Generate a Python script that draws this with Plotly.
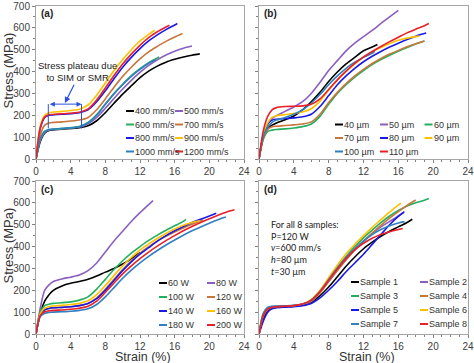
import plotly.graph_objects as go

W, H = 474, 363
COLORS = ['#000000', '#8B5FBF', '#22B05E', '#C8763C', '#1A1AE6', '#FFC000', '#2F7FC1', '#E8202A']

# ---------- panel (a): scan speed ----------
A_LABELS = ['400 mm/s', '500 mm/s', '600 mm/s', '700 mm/s', '800 mm/s', '900 mm/s', '1000 mm/s', '1200 mm/s']
A_STRAIN = [
    [0, 0.5, 1, 1.5, 3, 5, 6, 7, 8, 9, 10, 11, 12, 13, 14, 15, 16, 17, 18, 18.9],
    [0, 0.5, 1, 1.5, 3, 5, 6, 7, 8, 9, 10, 11, 12, 13, 14, 15, 16, 17, 18],
    [0, 0.5, 1, 1.5, 3, 5, 6, 7, 8, 9, 10, 11, 12, 13, 14.2],
    [0, 0.5, 1, 1.5, 3, 5, 6, 7, 8, 9, 10, 11, 12, 13, 14, 15, 16, 16.9],
    [0, 0.5, 1, 1.5, 3, 5, 6, 7, 8, 9, 10, 11, 12, 13, 14, 15, 16, 16.3],
    [0, 0.5, 1, 1.5, 3, 5, 6, 7, 8, 9, 10, 11, 12, 13, 13.7],
    [0, 0.5, 1, 1.5, 3, 5, 6, 7, 8, 9, 10, 11, 12, 13, 13.8],
    [0, 0.5, 1, 1.5, 3, 5, 6, 7, 8, 9, 10, 11, 12, 13, 14, 15, 15.4],
]
A_STRESS = [
    [0, 80, 118, 130, 136, 143, 152, 175, 212, 255, 297, 335, 372, 402, 425, 443, 456, 467, 475, 481],
    [0, 85, 122, 133, 138, 146, 160, 190, 232, 277, 320, 360, 396, 428, 454, 476, 493, 507, 517],
    [0, 90, 126, 134, 139, 149, 167, 203, 252, 300, 342, 381, 413, 441, 467],
    [0, 110, 155, 165, 170, 178, 190, 225, 275, 328, 378, 420, 458, 490, 515, 538, 558, 574],
    [0, 140, 190, 200, 205, 212, 225, 262, 312, 367, 420, 465, 505, 540, 568, 592, 613, 620],
    [0, 150, 200, 212, 218, 228, 247, 292, 348, 405, 455, 500, 540, 570, 589],
    [0, 92, 127, 135, 140, 148, 165, 200, 250, 298, 340, 378, 410, 438, 455],
    [0, 145, 192, 202, 207, 214, 229, 270, 325, 382, 435, 480, 520, 555, 582, 604, 612],
]

# ---------- panel (b): hatch spacing ----------
B_LABELS = ['40 µm', '50 µm', '60 µm', '70 µm', '80 µm', '90 µm', '100 µm', '110 µm']
B_STRAIN = [
    [0, 0.5, 1, 1.5, 2, 3, 4, 5, 6, 7, 8, 9, 10, 11, 12, 13, 13.6],
    [0, 0.5, 1, 1.5, 2, 3, 4, 5, 6, 7, 8, 9, 10, 11, 12, 13, 14, 15, 16],
    [0, 0.5, 1, 1.5, 2, 3, 4, 5, 6, 7, 8, 9, 10, 11, 12, 13, 14, 15, 16, 17, 18, 19],
    [0, 0.5, 1, 1.5, 2, 3, 4, 5, 6, 7, 8, 9, 10, 11, 12, 13, 14, 15, 16, 17, 18, 19],
    [0, 0.5, 1, 1.5, 2, 3, 4, 5, 6, 7, 8, 9, 10, 11, 12, 13, 14, 15, 16, 17, 18, 19.2],
    [0, 0.5, 1, 1.5, 2, 3, 4, 5, 6, 7, 8, 9, 10, 11, 12, 13, 14, 15, 16, 17, 18, 18.4],
    [0, 0.5, 1, 1.5, 2, 3, 4, 5, 6, 7, 8, 9, 10, 11, 12, 13, 13.3],
    [0, 0.5, 1, 1.5, 2, 3, 4, 5, 6, 7, 8, 9, 10, 11, 12, 13, 14, 15, 16, 17, 18, 19, 19.5],
]
B_STRESS = [
    [0, 100, 140, 155, 165, 180, 197, 225, 262, 305, 355, 398, 435, 465, 495, 512, 524],
    [0, 110, 160, 185, 198, 218, 238, 262, 300, 350, 405, 450, 495, 530, 560, 588, 620, 650, 680],
    [0, 90, 125, 132, 135, 138, 142, 148, 160, 195, 250, 300, 340, 375, 405, 432, 455, 475, 493, 510, 526, 540],
    [0, 95, 135, 148, 150, 153, 156, 160, 170, 205, 258, 305, 345, 380, 410, 437, 460, 480, 497, 513, 527, 540],
    [0, 110, 160, 178, 182, 185, 188, 193, 205, 240, 290, 340, 380, 415, 445, 470, 492, 512, 530, 547, 562, 576],
    [0, 115, 165, 190, 198, 203, 208, 215, 230, 265, 315, 362, 400, 435, 465, 490, 510, 528, 543, 553, 560, 562],
    [0, 105, 145, 168, 178, 190, 205, 225, 255, 295, 340, 380, 415, 443, 465, 483, 492],
    [0, 130, 195, 225, 235, 240, 241, 243, 250, 275, 318, 362, 402, 437, 467, 492, 515, 537, 557, 577, 594, 610, 620],
]

# ---------- panel (c): laser power ----------
C_LABELS = ['60 W', '80 W', '100 W', '120 W', '140 W', '160 W', '180 W', '200 W']
C_STRAIN = [
    [0, 0.5, 1, 1.5, 2, 3, 4, 5, 6, 7, 8, 9, 10, 11, 12],
    [0, 0.5, 1, 1.5, 2, 3, 4, 5, 6, 7, 8, 9, 10, 11, 12, 13, 13.5],
    [0, 0.5, 1, 1.5, 2, 3, 4, 5, 6, 7, 8, 9, 10, 11, 12, 13, 14, 15, 16, 17, 17.3],
    [0, 0.5, 1, 1.5, 2, 3, 4, 5, 6, 7, 8, 9, 10, 11, 12, 13, 14, 15, 16, 17, 18, 19, 19.3],
    [0, 0.5, 1, 1.5, 2, 3, 4, 5, 6, 7, 8, 9, 10, 11, 12, 13, 14, 15, 16, 17, 18, 19, 20, 20.8],
    [0, 0.5, 1, 1.5, 2, 3, 4, 5, 6, 7, 8, 9, 10, 11, 12, 13, 14, 15, 16, 17, 18, 18.9],
    [0, 0.5, 1, 1.5, 2, 3, 4, 5, 6, 7, 8, 9, 10, 11, 12, 13, 14, 15, 16, 17, 18, 19, 20, 21, 21.9],
    [0, 0.5, 1, 1.5, 2, 3, 4, 5, 6, 7, 8, 9, 10, 11, 12, 13, 14, 15, 16, 17, 18, 19, 20, 21, 22, 22.9],
]
C_STRESS = [
    [0, 95, 150, 180, 200, 220, 232, 240, 250, 265, 283, 300, 320, 345, 372],
    [0, 120, 200, 225, 240, 252, 260, 270, 290, 325, 375, 425, 470, 515, 555, 592, 610],
    [0, 100, 130, 136, 140, 143, 147, 155, 170, 205, 250, 295, 335, 370, 400, 428, 452, 475, 495, 515, 525],
    [0, 90, 112, 118, 120, 122, 125, 130, 140, 165, 205, 250, 295, 335, 370, 400, 425, 447, 467, 485, 502, 517, 520],
    [0, 88, 110, 117, 120, 122, 125, 130, 140, 162, 200, 245, 290, 330, 365, 395, 425, 450, 472, 492, 510, 525, 540, 552],
    [0, 92, 118, 125, 128, 131, 135, 140, 152, 180, 222, 268, 312, 350, 385, 412, 437, 460, 480, 497, 510, 518],
    [0, 80, 95, 99, 100, 102, 104, 108, 115, 135, 170, 212, 255, 292, 325, 355, 382, 407, 430, 452, 472, 490, 507, 523, 535],
    [0, 85, 102, 106, 108, 110, 113, 118, 127, 150, 190, 233, 275, 312, 345, 375, 402, 427, 450, 472, 492, 510, 527, 543, 558, 568],
]

# ---------- panel (d): repeatability ----------
D_LABELS = ['Sample 1', 'Sample 2', 'Sample 3', 'Sample 4', 'Sample 5', 'Sample 6', 'Sample 7', 'Sample 8']
D_STRAIN = [
    [0, 0.5, 1, 1.5, 2, 3, 4, 5, 6, 7, 8, 9, 10, 11, 12, 13, 14, 15, 16, 17, 17.6],
    [0, 0.5, 1, 1.5, 2, 3, 4, 5, 6, 7, 8, 9, 10, 11, 12, 13, 14, 15, 16, 16.6],
    [0, 0.5, 1, 1.5, 2, 3, 4, 5, 6, 7, 8, 9, 10, 11, 12, 13, 14, 15, 16, 17, 18, 19, 19.5],
    [0, 0.5, 1, 1.5, 2, 3, 4, 5, 6, 7, 8, 9, 10, 11, 12, 13, 14, 15, 16, 17, 18],
    [0, 0.5, 1, 1.5, 2, 3, 4, 5, 6, 7, 8, 9, 10, 11, 12, 13, 14, 15, 16, 16.7],
    [0, 0.5, 1, 1.5, 2, 3, 4, 5, 6, 7, 8, 9, 10, 11, 12, 13, 14, 15, 16, 16.3],
    [0, 0.5, 1, 1.5, 2, 3, 4, 5, 6, 7, 8, 9, 10, 11, 12, 13, 14, 15, 16, 16.7],
    [0, 0.5, 1, 1.5, 2, 3, 4, 5, 6, 7, 8, 9, 10, 11, 12, 13, 14, 15, 16, 16.5],
]
D_STRESS = [
    [0, 70, 105, 118, 122, 125, 127, 132, 145, 175, 215, 262, 310, 352, 390, 420, 447, 470, 490, 510, 525],
    [0, 85, 115, 122, 125, 127, 129, 135, 152, 190, 240, 292, 340, 385, 425, 460, 490, 515, 540, 556],
    [0, 95, 120, 125, 127, 128, 130, 136, 155, 195, 250, 305, 355, 400, 440, 475, 510, 540, 565, 585, 600, 612, 620],
    [0, 80, 112, 120, 123, 125, 128, 134, 150, 188, 240, 290, 340, 385, 425, 462, 497, 530, 560, 588, 613],
    [0, 60, 100, 115, 120, 123, 125, 130, 140, 165, 200, 240, 285, 325, 365, 410, 455, 500, 538, 560],
    [0, 90, 118, 124, 126, 128, 130, 137, 157, 200, 258, 315, 367, 410, 450, 488, 523, 558, 590, 598],
    [0, 95, 122, 127, 128, 129, 131, 137, 155, 195, 250, 302, 350, 390, 425, 455, 478, 495, 508, 514],
    [0, 85, 115, 122, 125, 127, 130, 137, 155, 193, 245, 297, 345, 385, 415, 438, 455, 468, 478, 483],
]

PANELS = [
    ('(a)', A_LABELS, A_STRAIN, A_STRESS),
    ('(b)', B_LABELS, B_STRAIN, B_STRESS),
    ('(c)', C_LABELS, C_STRAIN, C_STRESS),
    ('(d)', D_LABELS, D_STRAIN, D_STRESS),
]

# pixel layout of each panel: (x0, x1, ytop, ybottom)
BOX = [(36, 244, 6, 159), (259, 468, 6, 159), (36, 244, 181, 334), (259, 468, 181, 334)]
# legend layout: column swatch x positions, row y positions (px)
LEG = [
    ([126, 175], [111, 124.5, 138, 151.5]),
    ([335, 380, 424.5], [124.5, 138, 151.5]),
    ([159, 207], [283, 297, 311, 325]),
    ([351, 420], [282, 296, 310, 324]),
]

def px(x):
    return x / W

def py(y):
    return 1 - y / H

fig = go.Figure()
shapes = []
annotations = []
TXT = '#404040'
FONT = 'Liberation Sans, Arial, sans-serif'

for i, (tag, labels, strains, stresses) in enumerate(PANELS):
    sfx = '' if i == 0 else str(i + 1)
    for j, (lab, s, sig) in enumerate(zip(labels, strains, stresses)):
        fig.add_trace(go.Scatter(
            x=s, y=sig, name=lab, mode='lines', showlegend=False,
            line=dict(color=COLORS[j], width=1.6, shape='spline', smoothing=0.8),
            xaxis='x' + sfx, yaxis='y' + sfx))
    x0, x1, yt, yb = BOX[i]
    common = dict(showline=True, mirror=True, linecolor='#a6a6a6', linewidth=1, automargin=False,
                  ticks='outside', ticklen=3, tickcolor='#808080', showgrid=False,
                  zeroline=False, tickfont=dict(size=10, color=TXT, family=FONT))
    xa = dict(common, domain=[px(x0), px(x1)], range=[0, 24], dtick=4, tick0=0,
              anchor='y' + sfx, minor=dict(ticks='outside', ticklen=2, dtick=1, tickcolor='#808080'))
    ya = dict(common, domain=[py(yb), py(yt)], range=[0, 700], dtick=100, tick0=0,
              anchor='x' + sfx, minor=dict(ticks='outside', ticklen=2, dtick=50, tickcolor='#808080'))
    if i in (1, 3):
        ya['showticklabels'] = False
    fig.update_layout(**{'xaxis' + sfx: xa, 'yaxis' + sfx: ya})

    if i in (0, 2):
        annotations.append(dict(text='Stress (MPa)', x=px(8), y=py((yt + yb) / 2 - 12), xref='paper', yref='paper',
                                xanchor='center', yanchor='middle', showarrow=False, textangle=-90, borderpad=0,
                                font=dict(size=13, color='#333333', family=FONT)))
    if i in (2, 3):
        annotations.append(dict(text='Strain (%)', x=px((x0 + x1) / 2 + 3), y=py(356.5), xref='paper', yref='paper',
                                xanchor='center', yanchor='middle', showarrow=False, borderpad=0,
                                font=dict(size=12.5, color='#333333', family=FONT)))

    # panel tag
    annotations.append(dict(text='<b>' + tag + '</b>', x=px(x0 + 2.5), y=py(yt + 8), xref='paper', yref='paper',
                            xanchor='left', yanchor='middle', showarrow=False,
                            font=dict(size=10, color='#222222', family=FONT)))
    # legend (swatch + label)
    cols, rows = LEG[i]
    for j, lab in enumerate(labels):
        cx = cols[j % len(cols)]
        ry = rows[j // len(cols)]
        shapes.append(dict(type='line', xref='paper', yref='paper', x0=px(cx), x1=px(cx + 8),
                           y0=py(ry), y1=py(ry), line=dict(color=COLORS[j], width=2)))
        annotations.append(dict(text=lab, x=px(cx + 7), y=py(ry), xref='paper', yref='paper',
                                xanchor='left', yanchor='middle', showarrow=False,
                                font=dict(size=9, color='#333333', family=FONT)))

# ---- panel (a) annotation: stress plateau ----
BLUE = '#2B50E0'
PLATEAU = [1.42, 5.25]
PLATEAU_STRESS = [140, 251]
for xv in PLATEAU:
    shapes.append(dict(type='line', xref='x', yref='y', x0=xv, x1=xv, y0=PLATEAU_STRESS[0], y1=PLATEAU_STRESS[1],
                       line=dict(color=BLUE, width=1)))
annotations.append(dict(x=PLATEAU[1], y=PLATEAU_STRESS[1], ax=PLATEAU[0], ay=PLATEAU_STRESS[1],
                        xref='x', yref='y', axref='x', ayref='y', text='', showarrow=True,
                        arrowhead=2, startarrowhead=2, arrowside='end+start', arrowsize=1,
                        arrowwidth=1, arrowcolor=BLUE))
annotations.append(dict(x=3.33, y=256, ax=4.48, ay=347, xref='x', yref='y', axref='x', ayref='y',
                        text='', showarrow=True, arrowhead=2, arrowsize=1, arrowwidth=1.2, arrowcolor=BLUE))
annotations.append(dict(text='Stress plateau due<br>to SIM or SMR', x=px(77), y=py(71.5), xref='paper', yref='paper',
                        xanchor='center', yanchor='middle', showarrow=False, align='center',
                        font=dict(size=9.5, color='#222222', family=FONT)))

# ---- panel (d) annotation: process parameters ----
annotations.append(dict(text='For all 8 samples:<br>P=120 W<br><i>v</i>=600 mm/s<br><i>h</i>=80 µm<br><i>t</i>=30 µm',
                        x=px(269), y=py(217), xref='paper', yref='paper', xanchor='left', yanchor='top',
                        showarrow=False, align='left',
                        font=dict(size=9, color='#222222', family='Lato, sans-serif')))

fig.update_layout(width=W, height=H, margin=dict(l=0, r=0, t=0, b=0),
                  paper_bgcolor='white', plot_bgcolor='white',
                  shapes=shapes, annotations=annotations)

fig.write_html('out.html', config={'displayModeBar': False},
               post_script="document.body.style.margin='0px';document.body.style.padding='0px';")
